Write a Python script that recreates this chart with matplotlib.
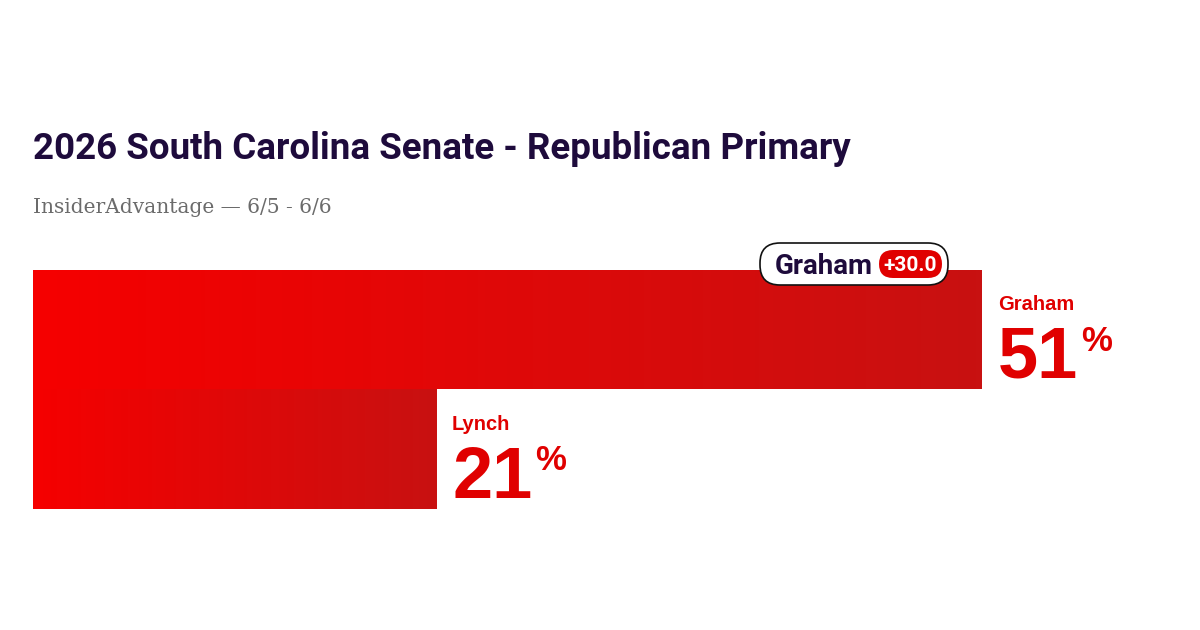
import numpy as np
import matplotlib.pyplot as plt
from matplotlib.colors import LinearSegmentedColormap
from matplotlib.patches import FancyBboxPatch
from matplotlib.transforms import IdentityTransform

candidates = ['Graham', 'Lynch']
values = [51, 21]
title = '2026 South Carolina Senate - Republican Primary'
subtitle = 'InsiderAdvantage \u2014 6/5 - 6/6'

W, H = 1200, 630
red = '#e00000'
navy = '#1e0b3c'
cond = ['Roboto', 'DejaVu Sans']
sans = ['Liberation Sans', 'DejaVu Sans']
x0 = -1.15  # bars start a little left of zero

fig = plt.figure(figsize=(W / 100, H / 100), dpi=100)
ax = fig.add_axes([33 / W, 121 / H, 949 / W, 239 / H])
ax.axis('off')

grad = LinearSegmentedColormap.from_list('g', ['#f60000', '#c81111'])
ramp = np.linspace(0, 1, 256).reshape(1, -1)
n = len(values)
for i, (name, v) in enumerate(zip(candidates, values)):
    y = n - 1 - i
    ax.imshow(ramp, cmap=grad, aspect='auto', extent=(x0, v, y - 0.5, y + 0.5),
              interpolation='bilinear')
ax.set_xlim(x0, max(values))
ax.set_ylim(-0.5, n - 0.5)

for i, (name, v) in enumerate(zip(candidates, values)):
    y = n - 1 - i
    ax.annotate(name, xy=(v, y + 0.5), xytext=(16, -40), textcoords='offset pixels',
                ha='left', va='baseline', color=red, fontsize=14.5,
                fontweight='bold', family=sans)
    num = ax.annotate(str(v), xy=(v, y + 0.5), xytext=(16, -108),
                      textcoords='offset pixels', ha='left', va='baseline',
                      color=red, fontsize=52, fontweight='bold', family=sans)
    fig.canvas.draw()
    bb = num.get_window_extent()
    ax.annotate('%', xy=(v, y + 0.5), xytext=(bb.x1 - ax.transData.transform((v, 0))[0] + 3, -81),
                textcoords='offset pixels', ha='left', va='baseline',
                color=red, fontsize=25, fontweight='bold', family=sans)

# leader badge
lead = int(np.argmax(values))
margin = values[lead] - sorted(values)[-2]
ax_, ay_ = ax.transData.transform((values[lead], n - 1 - lead + 0.5))
bx1 = ax_ - 34
bx0 = ax_ - 222
by0 = ay_ - 15
bh = 42
badge = FancyBboxPatch((bx0, by0), bx1 - bx0, bh,
                       boxstyle='round,pad=0,rounding_size=20',
                       transform=IdentityTransform(), facecolor='white',
                       edgecolor='#111111', linewidth=1.2, zorder=5)
fig.add_artist(badge)
pill = FancyBboxPatch((bx1 - 69, by0 + 7), 63, 28,
                      boxstyle='round,pad=0,rounding_size=14',
                      transform=IdentityTransform(), facecolor=red,
                      edgecolor='none', zorder=6)
fig.add_artist(pill)
fig.text((bx0 + 15) / W, (by0 + bh / 2) / H, candidates[lead], ha='left',
         va='center_baseline', color=navy, fontsize=20, fontweight='bold',
         family=cond, zorder=7)
fig.text((bx1 - 37.5) / W, (by0 + bh / 2) / H, f'+{margin:.1f}', ha='center',
         va='center_baseline', color='white', fontsize=15, fontweight='bold',
         family=cond, zorder=7)

fig.text(33 / W, (H - 159) / H, title, ha='left', va='baseline', color=navy,
         fontsize=26.5, fontweight='bold', family=cond)
fig.text(33 / W, (H - 213) / H, subtitle, ha='left', va='baseline', color='#6b6b6b',
         fontsize=14.5, family=['DejaVu Serif'])

fig.savefig('out.png', dpi=100, facecolor='white')
